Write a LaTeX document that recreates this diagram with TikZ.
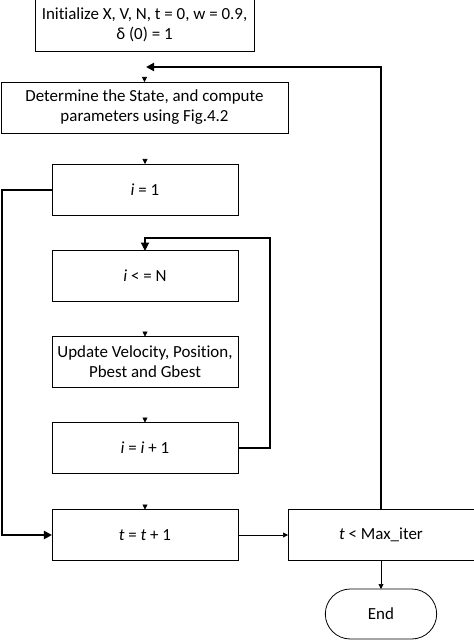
\documentclass[tikz,border=0pt]{standalone}
\usepackage{fontspec}
\setmainfont{Carlito}[Ligatures=NoCommon]
\usetikzlibrary{arrows.meta,shapes.misc}

\begin{document}
\begin{tikzpicture}[x=1bp,y=-1bp,every node/.style={draw,outer sep=0pt,line width=0.8bp,font=\fontsize{17}{20}\selectfont,align=center}]
      \tikzstyle{block}=[minimum width=186bp,minimum height=51bp]
      \tikzstyle{flow}=[line width=0.6bp,-{Triangle[length=5bp,width=5bp]}]
      \tikzstyle{loop}=[line width=2bp,-{Triangle[length=8bp,width=8bp]}]
      \tikzstyle{tip}=[line width=0.6bp,-{Triangle[length=5bp,width=5bp]}]
      \useasboundingbox (0,0) rectangle (474,641);

      \node (init) at (144.5,25) [minimum width=219bp,minimum height=52bp] {Initialize X, V, N, t = 0, w = 0.9,\\ δ (0) = 1};
      \node (state) at (144.5,107.5) [minimum width=287bp,minimum height=51bp] {Determine the State, and compute\\ parameters using Fig.4.2};
      \node (ione) at (145,189.5) [block] {\textit{i} = 1};
      \node (icond) at (145,276) [block] {\textit{i} < = N};
      \node (update) at (145,362) [block] {Update Velocity, Position,\\ Pbest and Gbest};
      \node (inc) at (145,448) [block] {\textit{i} = \textit{i} + 1};
      \node (tinc) at (145,535) [block] {\textit{t} = \textit{t} + 1};
      \node (tcond) at (381,535) [block] {\textit{t} < Max\_iter};
      \node (end) at (381,614) [rounded rectangle,minimum width=118bp,minimum height=50bp] {End};

      % small heads over the boxes
      \foreach \b in {state,ione,icond,update,inc,tinc}
        \draw [tip] (\b.north) ++(0,-5) -- (\b.north);

      \coordinate (back) at (146,67);
      \draw [loop] (tcond.north) |- (back);
      \draw [loop] (inc.east) -- ++(32,0) |- ([yshift=13bp]icond.north) -- (icond.north);
      \draw [loop] (ione.west) -- ++(-50,0) |- (tinc.west);
      \draw [flow] (tinc.east) -- (tcond.west);
      \draw [flow] (tcond.south) -- (end.north);
    \end{tikzpicture}
\end{document}
